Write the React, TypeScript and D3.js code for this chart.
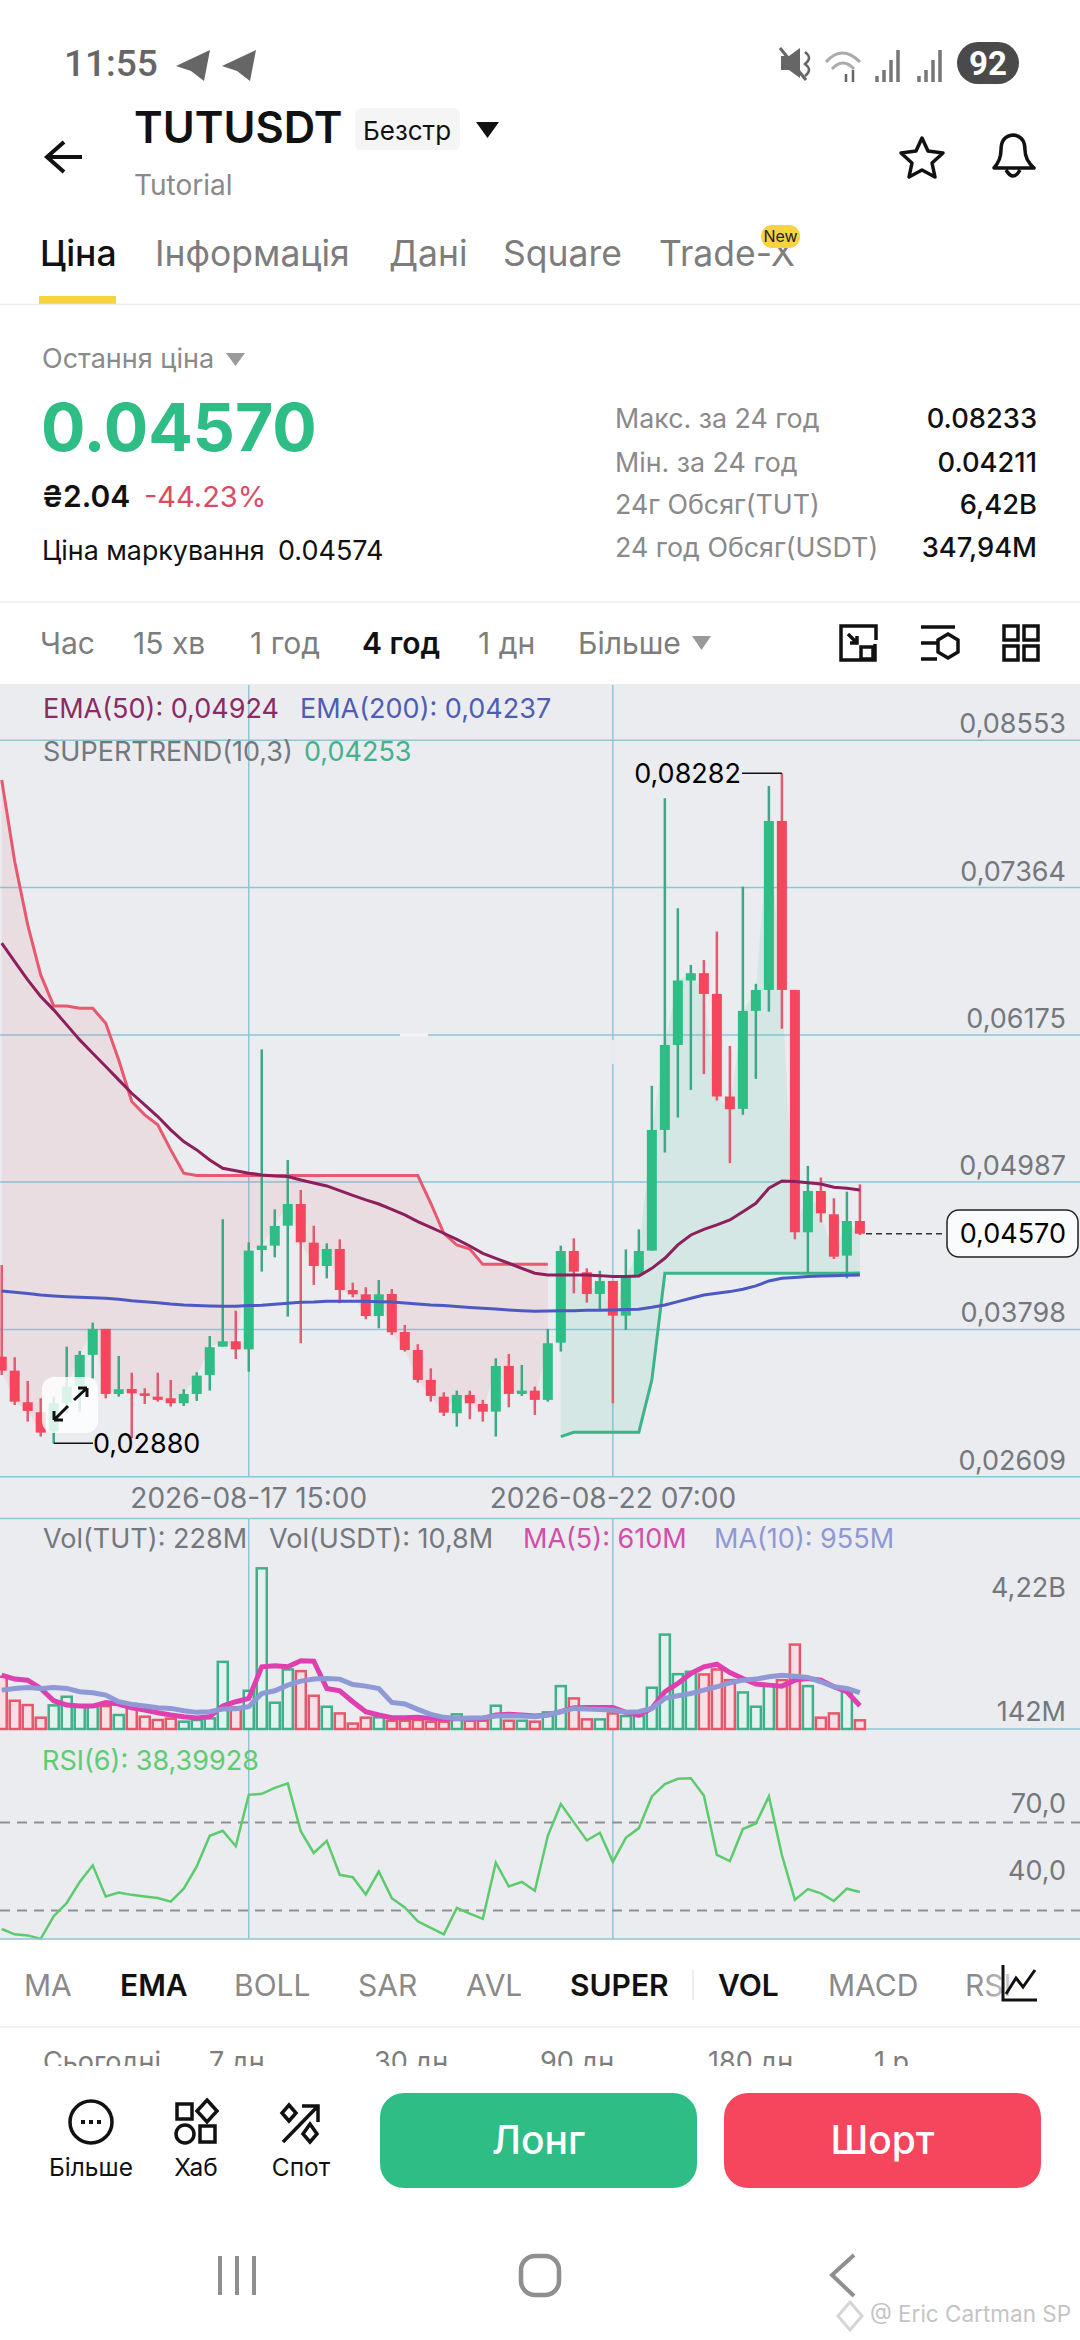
import * as d3 from "d3";

const opens = [0.03578,0.03465,0.0321,0.03129,0.02973,0.03207,0.03342,0.03592,0.03802,0.03277,0.03317,0.03282,0.03255,0.03242,0.03202,0.03277,0.0343,0.03659,0.03702,0.03637,0.04439,0.04474,0.04635,0.0481,0.04498,0.0431,0.04447,0.04116,0.04081,0.03906,0.04084,0.03777,0.03632,0.0339,0.03255,0.03121,0.03269,0.03196,0.03134,0.03503,0.03277,0.03304,0.03229,0.03691,0.04431,0.04259,0.04084,0.04189,0.03909,0.04237,0.04434,0.05408,0.06094,0.06614,0.06673,0.06506,0.05678,0.05578,0.06369,0.06538,0.07902,0.06538,0.04582,0.04915,0.04727,0.04393,0.04673];
const closes = [0.03465,0.03215,0.0314,0.02965,0.03202,0.03336,0.03592,0.03802,0.03277,0.03315,0.03282,0.03261,0.03229,0.03202,0.03277,0.03425,0.03654,0.03702,0.03637,0.04434,0.04474,0.04633,0.0481,0.04501,0.0431,0.04447,0.04116,0.04081,0.03906,0.04081,0.03775,0.03632,0.0339,0.03261,0.03126,0.03269,0.03202,0.03134,0.03503,0.03277,0.03304,0.03229,0.03686,0.04431,0.04264,0.04084,0.04189,0.03909,0.04224,0.04431,0.05408,0.06094,0.06614,0.06673,0.06506,0.05678,0.05575,0.06369,0.06538,0.07902,0.06538,0.04582,0.04915,0.04735,0.04385,0.04673,0.0457];
const highs = [0.04318,0.03573,0.03382,0.03242,0.03255,0.03659,0.03624,0.03853,0.03802,0.03584,0.03449,0.03323,0.03449,0.0339,0.03315,0.03452,0.03745,0.04687,0.03949,0.04501,0.06058,0.04767,0.05165,0.04923,0.04635,0.04493,0.04525,0.04175,0.04138,0.04197,0.04124,0.03834,0.03678,0.03484,0.0329,0.03304,0.03304,0.03229,0.03565,0.036,0.03511,0.03336,0.03802,0.04474,0.04533,0.04291,0.04272,0.04189,0.04444,0.04606,0.05764,0.08085,0.07197,0.0674,0.0678,0.07009,0.06086,0.07372,0.06587,0.08185,0.08287,0.06538,0.05118,0.05024,0.04856,0.0491,0.04969];
const lows = [0.0343,0.03188,0.03054,0.02933,0.02879,0.03121,0.03134,0.03403,0.03242,0.03255,0.02919,0.03196,0.03215,0.03175,0.0318,0.03221,0.03304,0.03659,0.03559,0.03457,0.04264,0.0438,0.03901,0.03686,0.04157,0.0421,0.04009,0.04057,0.0388,0.03807,0.03753,0.03619,0.03368,0.03215,0.03099,0.03013,0.03073,0.03054,0.02933,0.03169,0.03261,0.03108,0.03215,0.03619,0.04089,0.04014,0.0396,0.03202,0.03793,0.04224,0.04434,0.05226,0.05508,0.05731,0.05858,0.05645,0.0514,0.0553,0.0582,0.06363,0.06224,0.04525,0.04251,0.04662,0.04366,0.0421,0.0456];

const superDown = [0.08233,0.07574,0.07063,0.06659,0.06409,0.06409,0.0639,0.0639,0.06269,0.05973,0.05637,0.0553,0.05449,0.05247,0.05059,0.0504,0.0504,0.0504,0.0504,0.0504,0.0504,0.0504,0.0504,0.0504,0.0504,0.0504,0.0504,0.0504,0.0504,0.0504,0.0504,0.0504,0.0504,0.04816,0.04574,0.04479,0.04447,0.04323,0.04323,0.04323,0.04323,0.04323,0.04323];
const superUp = [0.02933,0.02968,0.02968,0.02968,0.02968,0.02968,0.02968,0.0339,0.04251,0.04251,0.04251,0.04251,0.04251,0.04251,0.04251,0.04251,0.04251,0.04251,0.04251,0.04251,0.04251,0.04251,0.04251,0.04253];
const ema50 = [0.06915,0.06767,0.06619,0.06485,0.06377,0.06256,0.06135,0.06027,0.0592,0.05812,0.05704,0.0561,0.05516,0.05409,0.05314,0.05247,0.05166,0.05099,0.05078,0.05059,0.05045,0.05037,0.05032,0.05004,0.0498,0.04956,0.04918,0.0488,0.04843,0.0481,0.04767,0.04722,0.04668,0.04622,0.04574,0.04525,0.04471,0.04412,0.04372,0.04332,0.04291,0.04251,0.04237,0.04237,0.04237,0.04237,0.04232,0.04224,0.04224,0.04229,0.04291,0.04372,0.0448,0.0456,0.04606,0.04641,0.04681,0.04748,0.04816,0.04937,0.04996,0.04991,0.04982,0.04972,0.04945,0.04937,0.04924];
const ema200 = [0.04108,0.04097,0.04087,0.04076,0.04068,0.04062,0.04057,0.04054,0.04049,0.04041,0.0403,0.04022,0.04014,0.04003,0.03995,0.0399,0.03987,0.03984,0.03984,0.0399,0.03993,0.04001,0.04009,0.04017,0.04019,0.04025,0.04025,0.04025,0.04025,0.04022,0.04019,0.04011,0.04003,0.03995,0.0399,0.03982,0.03974,0.03968,0.03963,0.03955,0.03949,0.03944,0.03947,0.03949,0.03949,0.03952,0.03952,0.03955,0.03958,0.0396,0.03976,0.03995,0.04022,0.04049,0.04076,0.04089,0.04103,0.04122,0.04149,0.04189,0.0421,0.04216,0.04224,0.04229,0.04232,0.04235,0.04237];

// volumes in millions
const volumes = [1371,742,629,297,620,847,585,585,602,367,655,323,236,271,192,236,279,1763,567,1004,4220,690,1563,1519,873,585,410,142,297,306,218,218,236,192,192,384,218,218,611,218,218,192,437,1126,803,253,253,410,340,340,1083,2479,1440,1502,1432,1563,1283,960,585,1152,1283,2217,1126,297,410,978,228];
const volMa5 = [1414,1310,1283,1065,742,629,602,602,698,655,559,498,428,367,323,288,323,602,716,803,1633,1659,1633,1790,1781,1065,1004,716,454,367,297,297,306,279,271,271,271,271,367,384,367,340,367,454,559,567,567,567,437,367,541,978,1196,1458,1633,1702,1484,1327,1179,1152,1126,1283,1327,1283,1109,978,610];
const volMa10 = [1021,1065,1091,1065,1091,1065,978,952,890,716,646,602,559,541,480,437,454,524,533,585,934,1004,1152,1257,1310,1327,1310,1170,1126,1065,698,655,515,384,306,279,288,297,340,340,340,323,367,454,541,524,515,498,437,454,541,803,873,934,1021,1109,1213,1283,1310,1371,1414,1388,1353,1240,1109,1065,955];
const rsi = [21.6,19.2,18.7,17.1,27.4,33.4,43,50.5,36.4,38.2,37.1,36.4,35.7,34,39.9,50,63.9,66.2,59.2,82.5,83,85.7,87.7,66,56.1,61.6,46.2,45.1,37.3,47.7,35.6,31.4,25.1,22.1,19.2,31.2,28.6,26.2,51.7,40.9,43,39,63.9,78.3,70,61.8,65.3,52.1,63,67.4,81.8,87.4,89.8,90,82.2,55.2,52.4,67,69.5,81.8,55.2,34.8,39.7,37.8,34.3,39.9,38.4];

const priceTicks = [0.08553, 0.07364, 0.06175, 0.04987, 0.03798, 0.02609];
const timeTicks = [
  { index: 19, label: "2026-08-17 15:00" },
  { index: 47, label: "2026-08-22 07:00" },
];
const tabs = ["Ціна", "Інформація", "Дані", "Square", "Trade-X"];
const intervals = ["Час", "15 хв", "1 год", "4 год", "1 дн", "Більше"];
const indicators = ["MA", "EMA", "BOLL", "SAR", "AVL", "SUPER", "VOL", "MACD", "RSI"];
const ranges = ["Сьогодні", "7 дн.", "30 дн.", "90 дн.", "180 дн.", "1 р."];
const statLabels = ["Макс. за 24 год", "Мін. за 24 год", "24г Обсяг(TUT)", "24 год Обсяг(USDT)"];
const statValues = ["0.08233", "0.04211", "6,42B", "347,94M"];

const GREEN = "#2ebd85";
const RED = "#f6465d";
const GRID = "#8ec6d6";
const AXIS = "#74787c";
const FONT = "Inter, 'Open Sans', sans-serif";
const LABEL = 27;

const x = d3.scaleLinear().domain([0, 66]).range([1.7, 859.9]);
const yPrice = d3.scaleLinear().domain([0.02609, 0.08553]).range([1476.7, 740.3]);
const yVol = d3.scaleLinear().domain([0, 4220]).range([1729, 1568.3]);
const yRsi = d3.scaleLinear().domain([30, 70]).range([1910.5, 1822.4]);

const priceLine = d3.line<number>().x((_, i) => x(i)).y((d) => yPrice(d));
const volLine = d3.line<number>().x((_, i) => x(i)).y((d) => yVol(d));
const rsiLine = d3.line<number>().x((_, i) => x(i)).y((d) => yRsi(d));
const UP_START = superDown.length;
const superUpLine = d3.line<number>().x((_, i) => x(i + UP_START)).y((d) => yPrice(d));
const downArea = d3
  .area<number>()
  .x((_, i) => x(i))
  .y0((d) => yPrice(d))
  .y1((_, i) => yPrice(closes[i]));
const upArea = d3
  .area<number>()
  .x((_, i) => x(i + UP_START))
  .y0((d) => yPrice(d))
  .y1((_, i) => yPrice(closes[i + UP_START]));

function Txt(props: any) {
  const { size, weight, fill, children, ...rest } = props;
  return (
    <text fontFamily={FONT} fontSize={size} fontWeight={weight || 400} fill={fill || "#000"} {...rest}>
      {children}
    </text>
  );
}

function StatusBar() {
  return (
    <g>
      <text x={64} y={76} fontFamily="Roboto" fontSize={37} fontWeight={500} fill="#666">11:55</text>
      <path d="M210 50 L176 66 L191 71 L204 81 Z M256 50 L222 66 L237 71 L250 81 Z" fill="#666" />
      <path d="M781 56 L789 56 L800 48 L800 78 L789 70 L781 70 Z" fill="#666" />
      <path d="M780 48 L806 80" stroke="#666" strokeWidth={3} />
      <path d="M805 52 Q813 58 805 64 Q813 70 805 76" fill="none" stroke="#666" strokeWidth={2.5} />
      <path d="M826 62 Q842 44 860 62 M832 69 Q843 57 854 69" fill="none" stroke="#aaa" strokeWidth={3} />
      <path d="M846 74 L846 82 M853 70 L853 82" stroke="#666" strokeWidth={2.5} />
      <path d="M877 82 V76 M884 82 V70 M891 82 V60 M898 82 V50" stroke="#777" strokeWidth={3.5} />
      <path d="M919 82 V76 M926 82 V70 M933 82 V60 M940 82 V50" stroke="#777" strokeWidth={3.5} />
      <rect x={957} y={42} width={62} height={42} rx={21} fill="#4a4a4a" />
      <text x={988} y={75} textAnchor="middle" fontFamily="Roboto" fontSize={33} fontWeight={700} fill="#fff">92</text>
    </g>
  );
}

function Header() {
  const tabX = [40, 155, 389, 503, 659];
  return (
    <g>
      <path d="M82 157 H48 M64 142 L47 157 L64 172" fill="none" stroke="#111" strokeWidth={4} />
      <Txt x={134} y={143} size={43.5} weight={600} fill="#111">TUTUSDT</Txt>
      <rect x={355} y={108} width={105} height={42} rx={6} fill="#f5f5f5" />
      <Txt x={407} y={140} size={26} textAnchor="middle" fill="#111">Безстр</Txt>
      <path d="M476 122 H499 L487.5 138 Z" fill="#111" />
      <Txt x={134} y={195} size={28} fill="#8a8a8a">Tutorial</Txt>
      <path d="M922 138 L928 151 L943 153 L932 163 L935 177 L922 170 L909 177 L912 163 L901 153 L916 151 Z" fill="none" stroke="#111" strokeWidth={3.5} strokeLinejoin="round" />
      <path d="M994 168 Q1001 160 1001 150 Q1001 136 1013 135 Q1025 136 1025 150 Q1025 160 1034 168 Z M1006 170 Q1013 182 1020 170" fill="none" stroke="#111" strokeWidth={3.5} strokeLinejoin="round" />
      {tabs.map((t, i) => (
        <Txt key={t} x={tabX[i]} y={266} size={35.5} weight={i === 0 ? 500 : 400} fill={i === 0 ? "#111" : "#7d7d7d"}>{t}</Txt>
      ))}
      <rect x={761} y={225} width={39} height={23} rx={11} fill="#f7d33e" />
      <Txt x={780.5} y={242} size={16} textAnchor="middle" fill="#222">New</Txt>
      <rect x={39} y={296} width={77} height={8} fill="#f7d33e" />
      <line x1={0} x2={1080} y1={304.5} y2={304.5} stroke="#eeeeee" strokeWidth={1.5} />
    </g>
  );
}

function PriceBlock() {
  const rowY = [428, 472, 514, 557];
  return (
    <g>
      <Txt x={42} y={368} size={27} fill="#8a8a8a">Остання ціна</Txt>
      <path d="M226 353 H245 L235.5 366 Z" fill="#9a9a9a" />
      <Txt x={41} y={451} size={66} weight={700} fill={GREEN}>0.04570</Txt>
      <Txt x={42} y={507} size={30} weight={600} fill="#111">₴2.04</Txt>
      <Txt x={144} y={507} size={29} fill="#dc4a62">-44.23%</Txt>
      <Txt x={42} y={560} size={26.8} fill="#111">Ціна маркування</Txt>
      <Txt x={278} y={560} size={27} fill="#111">0.04574</Txt>
      {statLabels.map((l, i) => (
        <Txt key={l} x={615} y={rowY[i]} size={26.8} fill="#8a8a8a">{l}</Txt>
      ))}
      {statValues.map((v, i) => (
        <Txt key={v} x={1037} y={rowY[i]} size={27.3} weight={500} textAnchor="end" fill="#111">{v}</Txt>
      ))}
      <line x1={0} x2={1080} y1={602} y2={602} stroke="#eeeeee" strokeWidth={1.5} />
    </g>
  );
}

function IntervalRow() {
  const ix = [40, 133, 250, 362, 478, 578];
  return (
    <g>
      {intervals.map((t, i) => (
        <Txt key={t} x={ix[i]} y={654} size={30} weight={i === 3 ? 600 : 400} fill={i === 3 ? "#111" : "#7d7d7d"}>{t}</Txt>
      ))}
      <path d="M692 636 H711 L701.5 650 Z" fill="#9a9a9a" />
      <g fill="none" stroke="#111" strokeWidth={3.5}>
        <path d="M859 626 H841 V660 H875 V644 M859 626 H876 V640" />
        <rect x={861} y={647} width={12} height={12} />
        <path d="M848 634 L857 643 M857 636 V643 H850" />
        <path d="M921 627 H955 M921 643 H937 M921 659 H937" />
        <path d="M948 634 L958 640 V652 L948 658 L938 652 V640 Z" />
        <rect x={1004} y={626} width={14} height={14} />
        <rect x={1024} y={626} width={14} height={14} />
        <rect x={1004} y={646} width={14} height={14} />
        <rect x={1024} y={646} width={14} height={14} />
      </g>
    </g>
  );
}

function PriceChart() {
  const peak = d3.max(highs) as number;
  const peakIdx = highs.indexOf(peak);
  const trough = d3.min(lows) as number;
  const troughIdx = lows.indexOf(trough);
  const last = closes[closes.length - 1];
  return (
    <g>
      {priceTicks.map((t) => (
        <line key={t} x1={0} x2={1080} y1={yPrice(t)} y2={yPrice(t)} stroke={GRID} strokeWidth={1.5} />
      ))}
      {timeTicks.map((t) => (
        <line key={t.label} x1={x(t.index)} x2={x(t.index)} y1={685} y2={1476.7} stroke={GRID} strokeWidth={1.5} />
      ))}
      {/* faint smudges on the grid in the screenshot */}
      <line x1={400} x2={428} y1={1035} y2={1035} stroke="#f2f4f6" strokeWidth={3} />
      <line x1={612.7} x2={612.7} y1={1040} y2={1064} stroke="#e4ecf1" strokeWidth={3} />
      <path d={downArea(superDown) as string} fill="#e6647a" fillOpacity={0.11} />
      <path d={upArea(superUp) as string} fill={GREEN} fillOpacity={0.11} />
      <path d={priceLine(superDown) as string} fill="none" stroke="#e8586f" strokeWidth={3} />
      <path d={superUpLine(superUp) as string} fill="none" stroke="#3cb48a" strokeWidth={3} />
      {closes.map((c, i) => {
        const up = c >= opens[i];
        const top = yPrice(Math.max(c, opens[i]));
        const bottom = yPrice(Math.min(c, opens[i]));
        return (
          <g key={i}>
            <line x1={x(i)} x2={x(i)} y1={yPrice(highs[i])} y2={yPrice(lows[i])} stroke={up ? "#3ba985" : "#e65a70"} strokeWidth={2.5} />
            <rect x={x(i) - 5} y={top} width={10} height={Math.max(bottom - top, 2)} fill={up ? GREEN : RED} />
          </g>
        );
      })}
      <path d={priceLine(ema50) as string} fill="none" stroke="#8c1f5c" strokeWidth={3} />
      <path d={priceLine(ema200) as string} fill="none" stroke="#4c59c4" strokeWidth={3} />

      <Txt x={43} y={718} size={LABEL} fill="#8c2a64">EMA(50): 0,04924</Txt>
      <Txt x={300} y={718} size={LABEL} fill="#4f5cb6">EMA(200): 0,04237</Txt>
      <Txt x={43} y={761} size={LABEL} fill={AXIS}>SUPERTREND(10,3)</Txt>
      <Txt x={304} y={761} size={LABEL} fill="#44b18b">0,04253</Txt>

      {priceTicks.map((t) => (
        <Txt key={t} x={1066} y={yPrice(t) - 7} size={LABEL} textAnchor="end" fill={AXIS}>
          {t.toFixed(5).replace(".", ",")}
        </Txt>
      ))}
      {timeTicks.map((t) => (
        <Txt key={t.label} x={x(t.index)} y={1508} size={28} textAnchor="middle" fill={AXIS}>{t.label}</Txt>
      ))}

      <line x1={742} x2={x(peakIdx)} y1={yPrice(peak)} y2={yPrice(peak)} stroke="#111" strokeWidth={1.5} />
      <Txt x={741} y={783} size={LABEL} textAnchor="end" fill="#000">0,08282</Txt>
      <line x1={x(troughIdx)} x2={93} y1={yPrice(trough)} y2={yPrice(trough)} stroke="#111" strokeWidth={1.5} />
      <Txt x={93} y={1453} size={LABEL} fill="#000">0,02880</Txt>

      <rect x={42} y={1377} width={56} height={56} rx={12} fill="#ffffff" fillOpacity={0.82} />
      <path d="M54 1420 L68 1406 M54 1420 V1411 M54 1420 H63 M74 1400 L87 1388 M87 1388 H78 M87 1388 V1397" fill="none" stroke="#111" strokeWidth={3} />

      <line x1={866} x2={945} y1={yPrice(last)} y2={yPrice(last)} stroke="#333" strokeWidth={1.5} strokeDasharray="6 4" />
      <rect x={947} y={1210} width={131} height={47} rx={12} fill="#fafbfc" stroke="#222" strokeWidth={1.5} />
      <Txt x={1066} y={1243} size={LABEL} textAnchor="end" fill="#000">0,04570</Txt>
    </g>
  );
}

function VolumeChart() {
  return (
    <g>
      <line x1={0} x2={1080} y1={1518.5} y2={1518.5} stroke={GRID} strokeWidth={1.5} />
      <line x1={0} x2={1080} y1={yVol(0)} y2={yVol(0)} stroke={GRID} strokeWidth={1.5} />
      {timeTicks.map((t) => (
        <line key={t.label} x1={x(t.index)} x2={x(t.index)} y1={1518.5} y2={1939} stroke={GRID} strokeWidth={1.5} />
      ))}
      {volumes.map((v, i) => {
        const up = closes[i] >= opens[i];
        return (
          <rect
            key={i}
            x={x(i) - 5}
            y={yVol(v)}
            width={10}
            height={yVol(0) - yVol(v)}
            fill={up ? "#e3f2ee" : "#f6e0e5"}
            stroke={up ? "#3fb08a" : "#e8566c"}
            strokeWidth={2.5}
          />
        );
      })}
      <path d={volLine(volMa5) as string} fill="none" stroke="#e03fb0" strokeWidth={5} />
      <path d={volLine(volMa10) as string} fill="none" stroke="#8f99d6" strokeWidth={5} />
      <Txt x={43} y={1548} size={LABEL} fill={AXIS}>Vol(TUT): 228M</Txt>
      <Txt x={269} y={1548} size={LABEL} fill={AXIS}>Vol(USDT): 10,8M</Txt>
      <Txt x={523} y={1548} size={LABEL} fill="#d24ea8">MA(5): 610M</Txt>
      <Txt x={714} y={1548} size={LABEL} fill="#8f98d2">MA(10): 955M</Txt>
      <Txt x={1066} y={1597} size={LABEL} textAnchor="end" fill={AXIS}>4,22B</Txt>
      <Txt x={1066} y={1721} size={LABEL} textAnchor="end" fill={AXIS}>142M</Txt>
    </g>
  );
}

function RsiChart() {
  return (
    <g>
      <line x1={0} x2={1080} y1={yRsi(70)} y2={yRsi(70)} stroke="#8f8f8f" strokeWidth={2} strokeDasharray="10 7" />
      <line x1={0} x2={1080} y1={yRsi(30)} y2={yRsi(30)} stroke="#8f8f8f" strokeWidth={2} strokeDasharray="10 7" />
      <path d={rsiLine(rsi) as string} fill="none" stroke="#5ccb6e" strokeWidth={2.5} />
      <line x1={0} x2={1080} y1={1939} y2={1939} stroke={GRID} strokeWidth={1.5} />
      <Txt x={42} y={1770} size={LABEL} fill="#5fcb72">RSI(6): 38,39928</Txt>
      <Txt x={1066} y={1813} size={LABEL} textAnchor="end" fill={AXIS}>70,0</Txt>
      <Txt x={1066} y={1880} size={LABEL} textAnchor="end" fill={AXIS}>40,0</Txt>
    </g>
  );
}

function Bottom() {
  const indX = [24, 120, 234, 358, 466, 570, 718, 828, 965];
  const activeInd = ["EMA", "SUPER", "VOL"];
  const rangeX = [43, 209, 374, 540, 708, 874];
  return (
    <g>
      <defs>
        <linearGradient id="fade" x1="0" x2="1" y1="0" y2="0">
          <stop offset="0" stopColor="#fff" stopOpacity={0} />
          <stop offset="0.6" stopColor="#fff" stopOpacity={1} />
        </linearGradient>
        <clipPath id="rangeClip">
          <rect x={0} y={2040} width={1080} height={26} />
        </clipPath>
      </defs>
      {indicators.map((t, i) => (
        <Txt key={t} x={indX[i]} y={1996} size={30} weight={activeInd.includes(t) ? 600 : 400} fill={activeInd.includes(t) ? "#111" : "#8a8a8a"}>{t}</Txt>
      ))}
      <rect x={975} y={1950} width={105} height={60} fill="url(#fade)" />
      <line x1={693} x2={693} y1={1970} y2={2000} stroke="#e8e8e8" strokeWidth={1.5} />
      <path d="M1003 1965 V2000 H1037 M1006 1994 L1016 1978 L1023 1987 L1035 1970" fill="none" stroke="#111" strokeWidth={3} />
      <line x1={0} x2={1080} y1={2027} y2={2027} stroke="#eeeeee" strokeWidth={1.5} />
      <g clipPath="url(#rangeClip)">
        {ranges.map((t, i) => (
          <Txt key={t} x={rangeX[i]} y={2071} size={27} fill="#7d7d7d">{t}</Txt>
        ))}
      </g>

      <circle cx={91} cy={2122} r={21} fill="none" stroke="#111" strokeWidth={3.5} />
      <path d="M81 2122 h4 M89 2122 h4 M97 2122 h4" stroke="#111" strokeWidth={4} />
      <g fill="none" stroke="#111" strokeWidth={3.5}>
        <rect x={177} y={2104} width={15} height={15} />
        <path d="M207 2100 L217 2111 L207 2122 L197 2111 Z" />
        <circle cx={185} cy={2134} r={9} />
        <rect x={200} y={2126} width={15} height={16} />
        <path d="M283 2142 L318 2106 M302 2106 H318 V2122" />
        <path d="M289 2105 L296 2113 L289 2121 L282 2113 Z" />
        <path d="M310 2124 L317 2134 L310 2142 L303 2134 Z" />
      </g>
      <Txt x={91} y={2176} size={24.5} textAnchor="middle" fill="#111">Більше</Txt>
      <Txt x={196} y={2176} size={24.5} textAnchor="middle" fill="#111">Хаб</Txt>
      <Txt x={301} y={2176} size={24.5} textAnchor="middle" fill="#111">Спот</Txt>

      <rect x={380} y={2093} width={317} height={95} rx={24} fill={GREEN} />
      <Txt x={538.5} y={2154} size={39} weight={500} textAnchor="middle" fill="#fff">Лонг</Txt>
      <rect x={724} y={2093} width={317} height={95} rx={24} fill={RED} />
      <Txt x={882.5} y={2154} size={39} weight={500} textAnchor="middle" fill="#fff">Шорт</Txt>

      <path d="M220 2256 V2295 M237 2256 V2295 M254 2256 V2295" stroke="#8f8f8f" strokeWidth={4} />
      <rect x={521} y={2256} width={38} height={39} rx={14} fill="none" stroke="#8f8f8f" strokeWidth={4.5} />
      <path d="M854 2255 L832 2275 L854 2296" fill="none" stroke="#8f8f8f" strokeWidth={4} />
      <path d="M850 2302 L862 2316 L850 2330 L838 2316 Z" fill="none" stroke="#d5d5d5" strokeWidth={3} />
      <Txt x={870} y={2322} size={22.5} fill="#c4c4c4">@ Eric Cartman SP</Txt>
    </g>
  );
}

export default function App() {
  return (
    <svg
      width={1080}
      height={2340}
      viewBox="0 0 1080 2340"
      style={{ position: "absolute", left: 0, top: 0, display: "block", background: "#fff" }}
    >
      <rect x={0} y={684} width={1080} height={1255} fill="#eaecf0" />
      <StatusBar />
      <Header />
      <PriceBlock />
      <IntervalRow />
      <PriceChart />
      <VolumeChart />
      <RsiChart />
      <Bottom />
    </svg>
  );
}
